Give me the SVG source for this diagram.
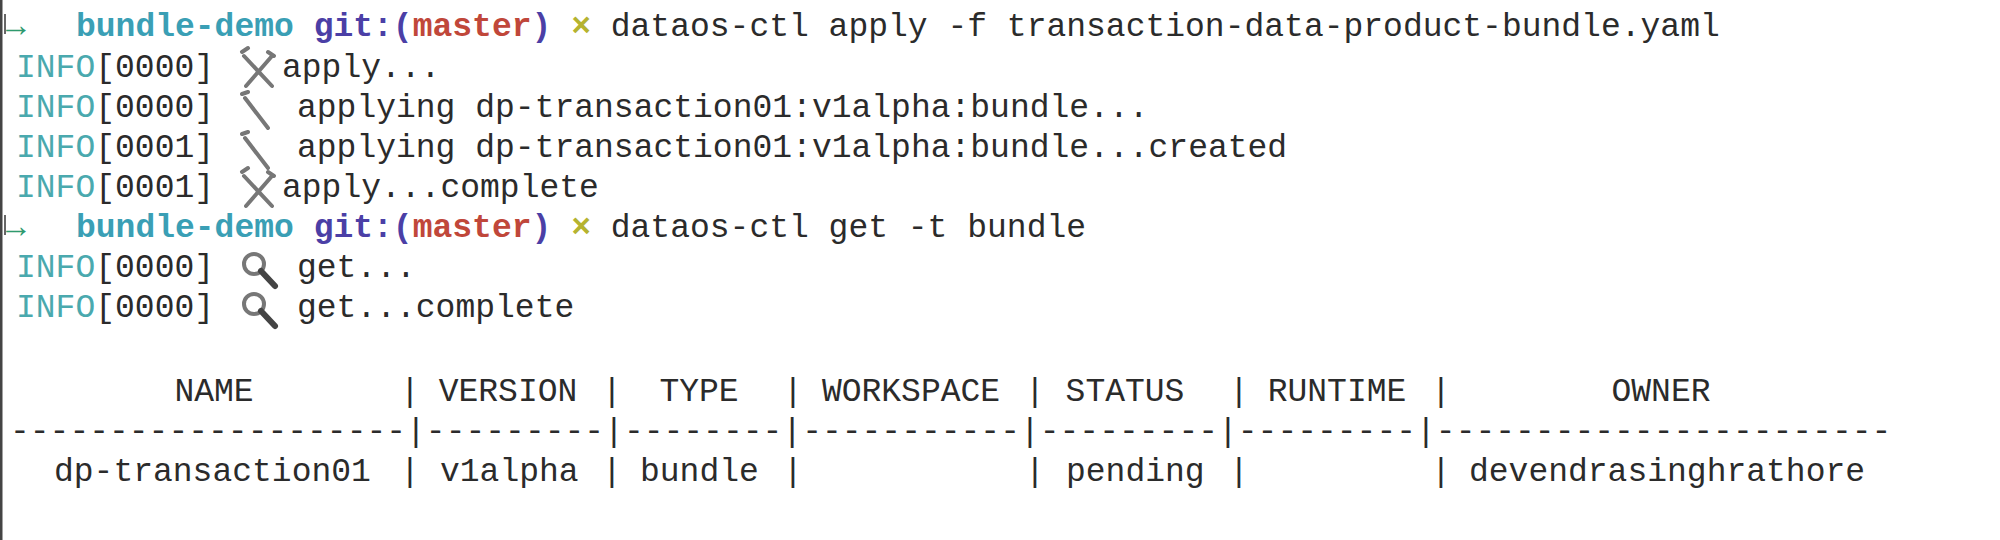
<svg xmlns="http://www.w3.org/2000/svg" width="2000" height="540" viewBox="0 0 2000 540">
<style>
text{font-family:"Liberation Mono","DejaVu Sans Mono",monospace;font-size:33px;fill:#2b2b2b}
.b{font-weight:bold}
.cy{fill:#3a9fb5}.pu{fill:#4b3fa6}.rd{fill:#c0473a}.yl{fill:#b5b330}.in{fill:#4aa9ae}.ar{fill:#2e9a6e}
.t{font-size:32px}
.ic{stroke:#777;stroke-width:4;fill:none;stroke-linecap:round}
</style>
<rect width="2000" height="540" fill="#fff"/>
<line x1="1" y1="0" x2="1" y2="540" stroke="#444" stroke-width="3"/>
<g id="lines">
<line x1="5" y1="14" x2="5" y2="34" stroke="#666" stroke-width="2"/>
<text x="6" y="36"><tspan class="ar">→</tspan></text>
<text x="76" y="36" class="b"><tspan class="cy">bundle-demo</tspan> <tspan class="pu">git:(</tspan><tspan class="rd">master</tspan><tspan class="pu">)</tspan> <tspan class="yl">×</tspan> <tspan style="font-weight:normal">dataos-ctl apply -f transaction-data-product-bundle.yaml</tspan></text>
<text x="16" y="77"><tspan class="in">INFO</tspan>[0000]</text>
<text x="282" y="77">apply...</text>
<text x="16" y="117"><tspan class="in">INFO</tspan>[0000]</text>
<text x="297" y="117">applying dp-transaction01:v1alpha:bundle...</text>
<text x="16" y="157"><tspan class="in">INFO</tspan>[0001]</text>
<text x="297" y="157">applying dp-transaction01:v1alpha:bundle...created</text>
<text x="16" y="197"><tspan class="in">INFO</tspan>[0001]</text>
<text x="282" y="197">apply...complete</text>
<line x1="5" y1="215" x2="5" y2="235" stroke="#666" stroke-width="2"/>
<text x="6" y="237"><tspan class="ar">→</tspan></text>
<text x="76" y="237" class="b"><tspan class="cy">bundle-demo</tspan> <tspan class="pu">git:(</tspan><tspan class="rd">master</tspan><tspan class="pu">)</tspan> <tspan class="yl">×</tspan> <tspan style="font-weight:normal">dataos-ctl get -t bundle</tspan></text>
<text x="16" y="277"><tspan class="in">INFO</tspan>[0000]</text>
<text x="297" y="277">get...</text>
<text x="16" y="317"><tspan class="in">INFO</tspan>[0000]</text>
<text x="297" y="317">get...complete</text>
</g>
<g id="icons">
<path class="ic" d="M244 56 L272 86 M272 56 L246 86 M242 52 l6 -4 M268 52 l6 4"/>
<path class="ic" d="M245 98 L268 128 M242 94 l6 -2"/>
<path class="ic" d="M245 138 L268 168 M242 134 l6 -2"/>
<path class="ic" d="M244 176 L272 206 M272 176 L246 206 M242 172 l6 -4 M268 172 l6 4"/>
<circle class="ic" cx="254" cy="264" r="10"/><path class="ic" d="M261 271 L275 286" style="stroke:#444;stroke-width:6"/>
<circle class="ic" cx="254" cy="304" r="10"/><path class="ic" d="M261 311 L275 326" style="stroke:#444;stroke-width:6"/>
</g>
<g id="table" class="t">
<g text-anchor="middle">
<text x="214" y="401">NAME</text><text x="508" y="401">VERSION</text><text x="699" y="401">TYPE</text><text x="911" y="401">WORKSPACE</text><text x="1125" y="401">STATUS</text><text x="1337" y="401">RUNTIME</text><text x="1661" y="401">OWNER</text>
</g>
<text x="10" y="441">--------------------|---------|--------|-----------|---------|---------|-----------------------</text>
<g>
<text x="400" y="401">|</text><text x="602" y="401">|</text><text x="783" y="401">|</text><text x="1025" y="401">|</text><text x="1229" y="401">|</text><text x="1431" y="401">|</text>
<text x="400" y="481">|</text><text x="602" y="481">|</text><text x="783" y="481">|</text><text x="1025" y="481">|</text><text x="1229" y="481">|</text><text x="1431" y="481">|</text>
</g>
<text x="54" y="481">dp-transaction01</text><text x="440" y="481">v1alpha</text><text x="640" y="481">bundle</text><text x="1066" y="481">pending</text><text x="1469" y="481">devendrasinghrathore</text>
</g>
</svg>
